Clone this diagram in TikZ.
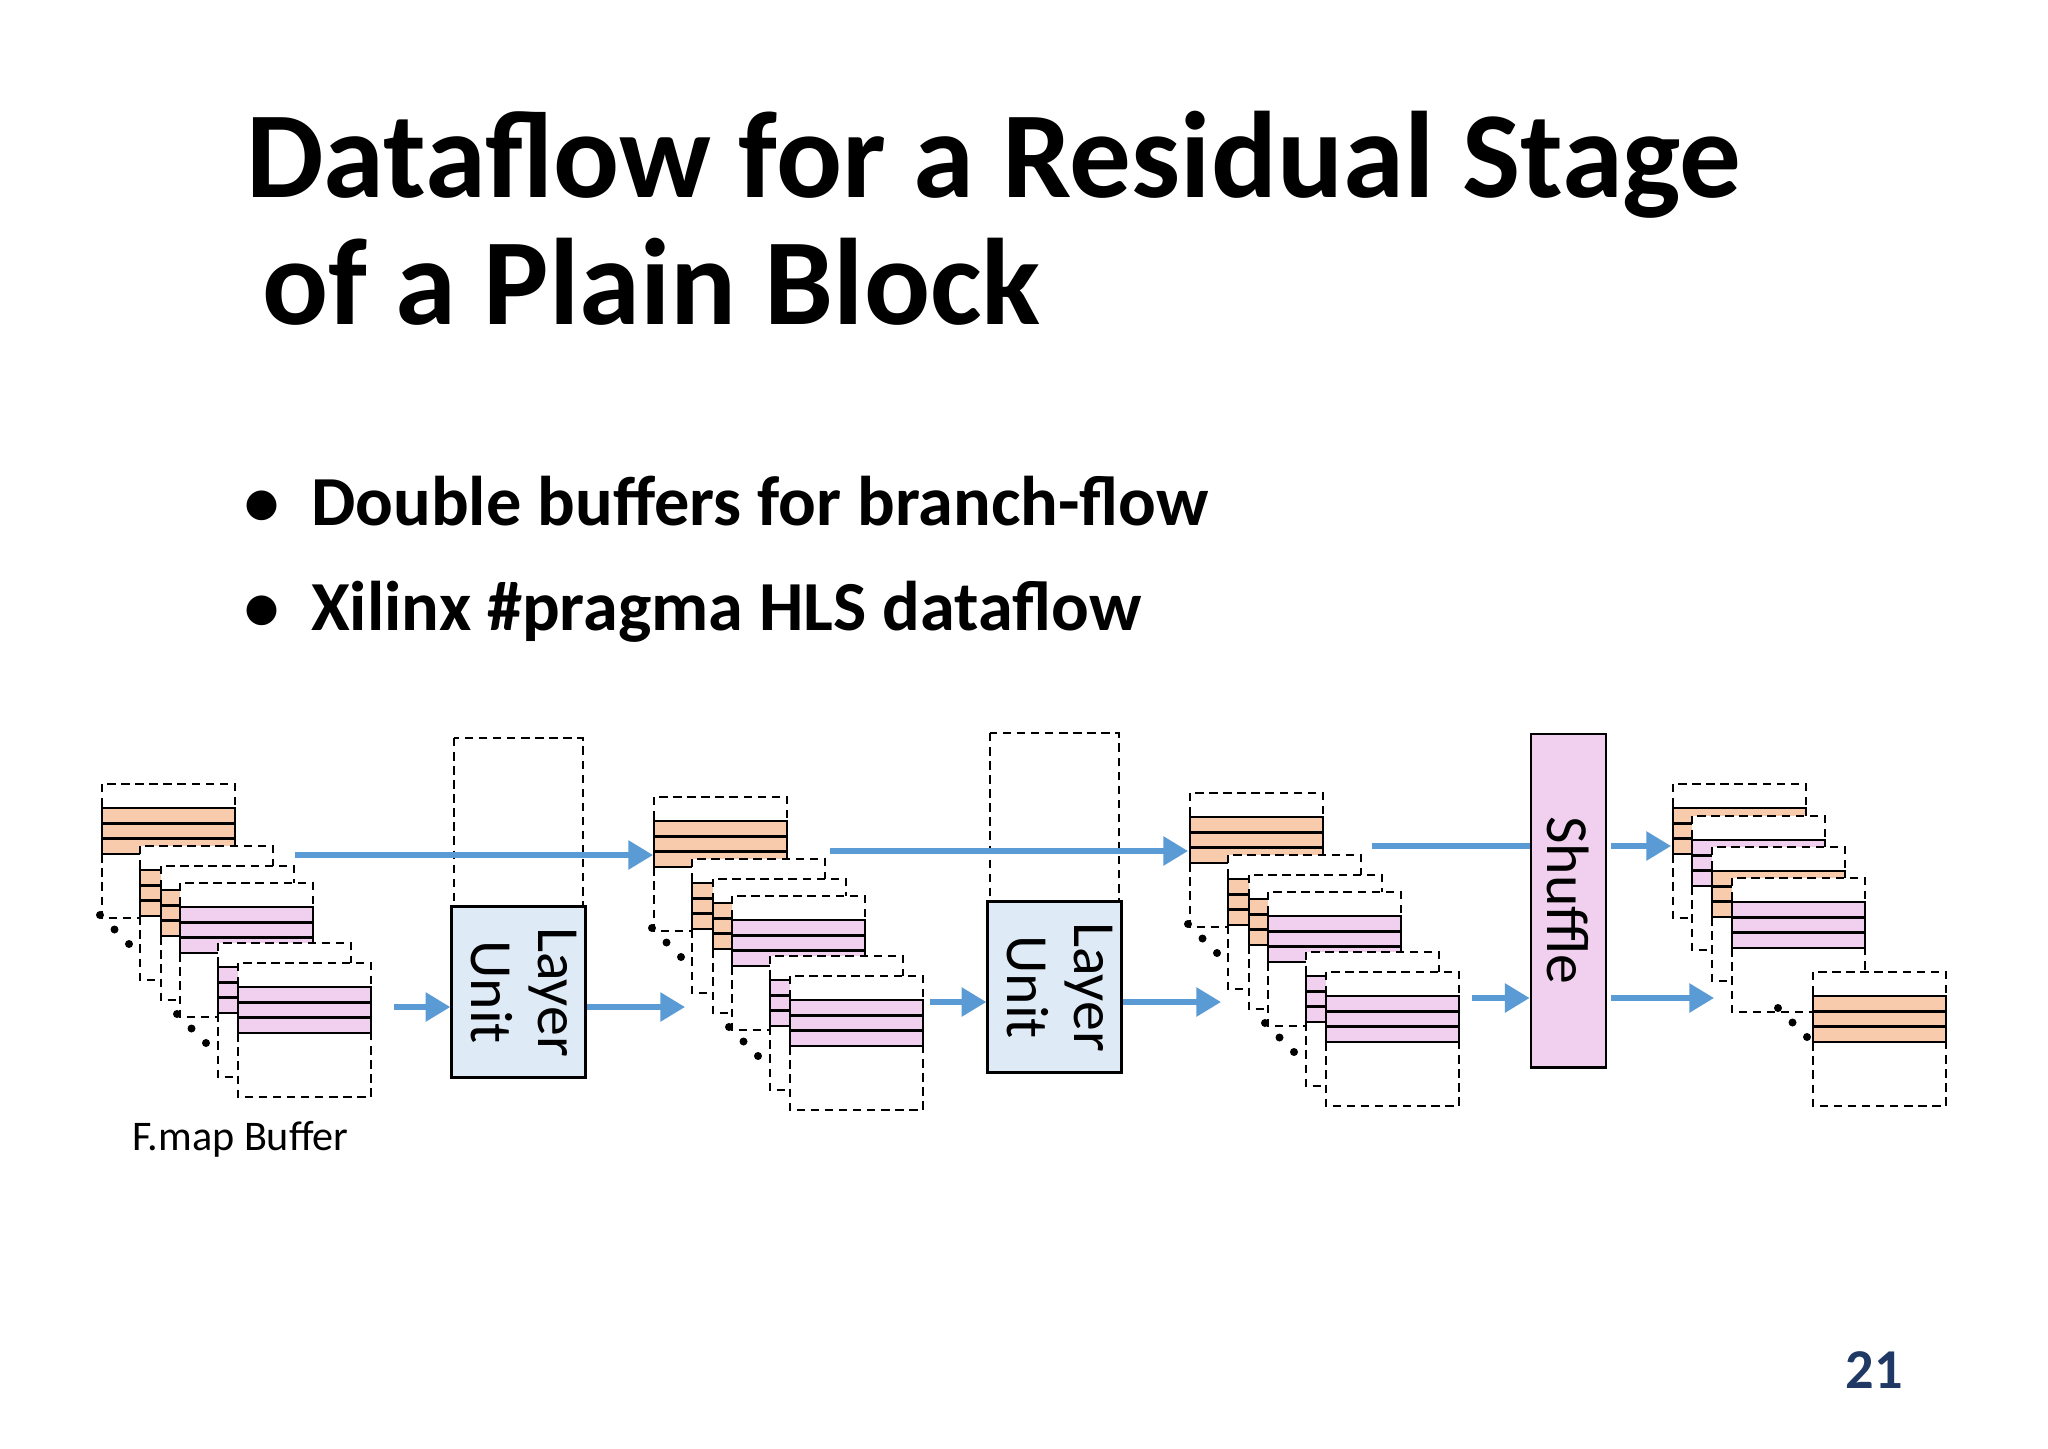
\documentclass[tikz,border=0pt]{standalone}
\usepackage{fontspec}
\setmainfont{Carlito}
\usetikzlibrary{arrows.meta}
\definecolor{orng}{HTML}{F8CBAD}
\definecolor{pnk}{HTML}{F0D0EE}
\definecolor{lublue}{HTML}{DEEBF7}
\definecolor{flowblue}{HTML}{5B9BD5}
\definecolor{numblue}{HTML}{1F3864}

% one feature map buffer: left, top, stripe colour
\newcommand\fbuf[3]{%
  \fill[white] ({#1},{#2}) rectangle ++(133,134);
  \foreach \k in {0,1,2}{
    \draw[stripe,fill=#3] ({#1},{#2+24+15.3*\k}) rectangle ++(133,15.3);}
  \draw[dbox] ({#1},{#2}) rectangle ++(133,134);
}
\newcommand\dotrow[2]{%
  \foreach \d in {0,1,2}{\fill ({#1+14.5*\d},{#2+14.5*\d}) circle (4);}
}

\begin{document}
\begin{tikzpicture}[x=0.01cm,y=-0.01cm,
  dbox/.style={dash pattern=on 2.4pt off 1.6pt, line width=0.8pt},
  stripe/.style={line width=0.8pt},
  unit/.style={draw, line width=0.8pt, fill=lublue, minimum width=1.29cm, minimum height=1.70cm, inner sep=0pt},
  flow/.style={flowblue, line width=1.5pt, -{Triangle[length=7pt,width=8pt]}}]

\fill[white] (0,0) rectangle (2048,1448);
\useasboundingbox (0,0) rectangle (2048,1448);

% title and bullets
\node[anchor=base west, font=\fontsize{35}{40}\selectfont\bfseries] (title1) at (234,197) {Dataflow for a Residual Stage};
\node[anchor=base west, font=\fontsize{35}{40}\selectfont\bfseries] (title2) at (250,324) {of a Plain Block};
\node[anchor=base west, font=\fontsize{20}{24}\selectfont\bfseries] (bul1) at (232,525) {\textbullet\ \ Double buffers for branch-flow};
\node[anchor=base west, font=\fontsize{20}{24}\selectfont\bfseries] (bul2) at (232,630) {\textbullet\ \ Xilinx \#pragma HLS dataflow};

% buffer stacks
\foreach \sx/\sy in {102/784, 654/797, 1190/793}{
  \foreach \dx/\dy/\c in {0/0/orng, 38/62/orng, 59/82/orng, 78/99/pnk, 116/159/pnk, 136/179/pnk}{
    \fbuf{\sx+\dx}{\sy+\dy}{\c}}
  \dotrow{\sx-2}{\sy+131}
  \dotrow{\sx+75}{\sy+230}
}
\foreach \dx/\dy/\c in {0/0/orng, 19/32/pnk, 39/63/orng, 59/94/pnk, 140/188/orng}{
  \fbuf{1673+\dx}{784+\dy}{\c}}
\dotrow{1778}{1008}

\node[anchor=base west, font=\fontsize{12}{14}\selectfont] (fmap) at (120,1150) {F.map Buffer};

% layer units and shuffle
\draw[dbox] (454,738) rectangle (583,907);
\draw[dbox] (990,733) rectangle (1119,903);
\node[unit] (lu1) at (518.5,992) {\rotatebox{-90}{\fontsize{17}{19}\selectfont\begin{tabular}{c}Layer\\Unit\end{tabular}}};
\node[unit] (lu2) at (1054.5,987) {\rotatebox{-90}{\fontsize{17}{19}\selectfont\begin{tabular}{c}Layer\\Unit\end{tabular}}};
\node[draw, line width=0.8pt, fill=pnk, minimum width=0.75cm, minimum height=3.33cm, inner sep=0pt] (shuf) at (1568.5,900.5)
  {\rotatebox{-90}{\fontsize{17}{19}\selectfont Shuffle}};

% connectors
\coordinate (s1a) at (295,855); \coordinate (s2a) at (653,855);
\coordinate (s2b) at (830,851); \coordinate (s3a) at (1188,851);
\coordinate (s3b) at (1372,846); \coordinate (s4a) at (1671,846);
\coordinate (s1b) at (394,1007); \coordinate (s2c) at (685,1007);
\coordinate (s2d) at (930,1002); \coordinate (s3c) at (1221,1002);
\coordinate (s3d) at (1472,998); \coordinate (s4b) at (1714,998);
\draw[flow] (s1a) -- (s2a);
\draw[flow] (s2b) -- (s3a);
\draw[flowblue, line width=1.5pt] (s3b) -- (s3b -| shuf.west);
\draw[flow] ([xshift=0.04cm]s4a -| shuf.east) -- (s4a);
\draw[flow] (s1b) -- (s1b -| lu1.west);
\draw[flow] (s1b -| lu1.east) -- (s2c);
\draw[flow] (s2d) -- (s2d -| lu2.west);
\draw[flow] (s2d -| lu2.east) -- (s3c);
\draw[flow] (s3d) -- (s3d -| shuf.west);
\draw[flow] ([xshift=0.04cm]s4b -| shuf.east) -- (s4b);

\node[anchor=base east, text=numblue, font=\fontsize{16}{18}\selectfont\bfseries] (pnum) at (1915,1388) {21};
\end{tikzpicture}
\end{document}
